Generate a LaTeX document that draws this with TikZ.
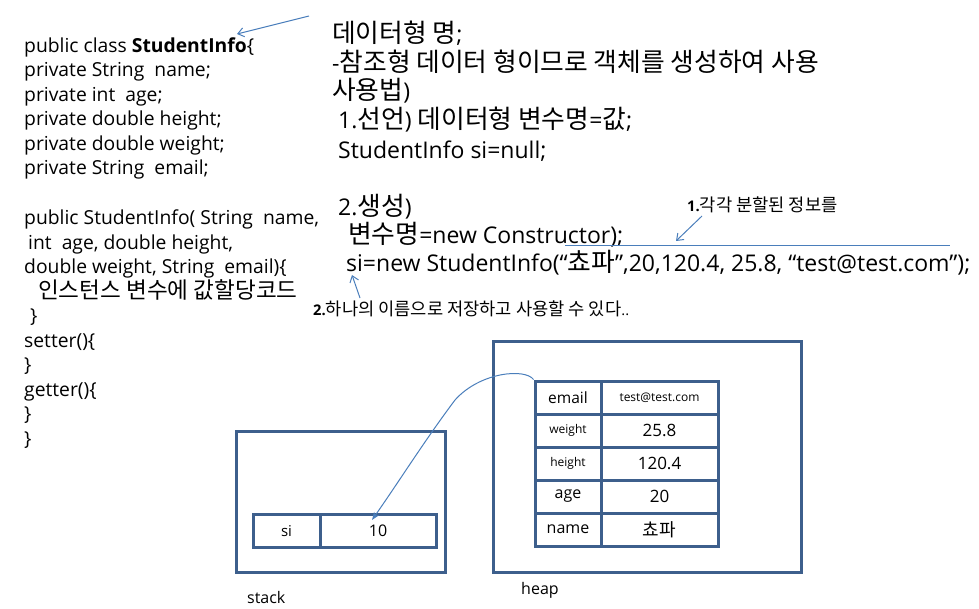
\documentclass[tikz,border=0pt]{standalone}
\usepackage{fontspec}
\setmainfont{Open Sans}
\newfontfamily\krcode{Noto Sans CJK KR}[Scale=1.17]
\newfontfamily\krnote{Noto Sans CJK KR}[Scale=1.12]
\newfontfamily\krsmall{Noto Sans CJK KR}[Scale=1.2]
\let\krcur\krsmall
\newcommand\kr[1]{{\krcur #1}}
\usetikzlibrary{arrows.meta}
\definecolor{boxblue}{HTML}{3D5F8C}
\definecolor{annblue}{HTML}{4A7EBB}
\begin{document}
\begin{tikzpicture}[x=1pt,y=-1pt,
  code/.style={anchor=base west,inner sep=0pt,font=\fontsize{19.3}{22}\selectfont\let\krcur\krcode},
  note/.style={anchor=base west,inner sep=0pt,font=\fontsize{23}{26}\selectfont\let\krcur\krnote},
  small/.style={anchor=base west,inner sep=0pt,font=\fontsize{14.7}{16}\selectfont\let\krcur\krsmall},
  frame/.style={draw=boxblue,line width=3pt,rectangle,inner sep=0pt},
  cell/.style={draw=boxblue,line width=3pt,rectangle,inner sep=0pt,minimum height=33pt},
  ann/.style={draw=annblue,line width=1pt},
  tip/.style={-{Straight Barb[length=6pt,width=9pt]}}]
\useasboundingbox (0,0) rectangle (979,608);
% left code
\node[code] (c1) at (24,52) {public class \textbf{StudentInfo}\{};
\node[code] (c2) at (24,76.5) {private String\ \ name;};
\node[code] (c3) at (24,101) {private int\ \ age;};
\node[code] (c4) at (24,125.5) {private double height;};
\node[code] (c5) at (24,150) {private double weight;};
\node[code] (c6) at (24,174.5) {private String\ \ email;};
\node[code] (c7) at (24,224.5) {public StudentInfo( String\ \ name,};
\node[code] (c8) at (28,249) {int\ \ age, double height,};
\node[code] (c9) at (24,273.5) {double weight, String\ \ email)\{};
\node[code] (c10) at (38,298) {\kr{인스턴스 변수에 값할당코드}};
\node[code] (c11) at (30,322.5) {\}};
\node[code] (c12) at (24,347) {setter()\{};
\node[code] (c13) at (24,371.5) {\}};
\node[code] (c14) at (24,396) {getter()\{};
\node[code] (c15) at (24,420.5) {\}};
\node[code] (c16) at (24,445) {\}};
% right notes
\node[note] (r1) at (332,42) {\kr{데이터형 명};};
\node[note] (r2) at (332,71) {-\kr{참조형 데이터 형이므로 객체를 생성하여 사용}};
\node[note] (r3) at (332,99) {\kr{사용법})};
\node[note] (r4) at (338,128) {1.\kr{선언}) \kr{데이터형 변수명}=\kr{값};};
\node[note] (r5) at (338,158) {StudentInfo si=null;};
\node[note] (r6) at (338,215) {2.\kr{생성})};
\node[note] (r7) at (348,243) {\kr{변수명}=new Constructor);};
\node[note] (r8) at (346,271.5) {si=new StudentInfo(“\kr{쵸파}”,20,120.4, 25.8, “test@test.com”);};
\node[small] (a1) at (687,211) {\textbf{1.}\kr{각각 분할된 정보를}};
\node[small] (a2) at (313,315) {\textbf{2.}\kr{하나의 이름으로 저장하고 사용할 수 있다}..};
% annotation connectors
\coordinate (p1s) at (309,16);
\coordinate (p1e) at (237,34);
\draw[ann,tip] (p1s) -- (p1e);
\coordinate (p2s) at (702,216);
\coordinate (p2e) at (676,241);
\draw[ann,tip] (p2s) -- (p2e);
\coordinate (h1) at (565,245);
\coordinate (h2) at (950,245);
\draw[ann] (h1) -- (h2);
\coordinate (p3s) at (360,298);
\coordinate (p3e) at (352,275);
\draw[ann,tip] (p3s) -- (p3e);
% stack
\node[frame,minimum width=209pt,minimum height=141pt] (stack) at (340.5,501.5) {};
\node[cell,minimum width=67pt,font=\fontsize{15}{17}\selectfont] (si) at (286.5,531) {si};
\node[cell,minimum width=116pt,font=\fontsize{16}{18}\selectfont] (siv) at (378,531) {10};
\node[anchor=base west,inner sep=0pt,font=\fontsize{16}{18}\selectfont] (stl) at (247,603) {stack};
% heap
\node[frame,minimum width=308pt,minimum height=231pt] (heap) at (647,456.5) {};
\node[anchor=base west,inner sep=0pt,font=\fontsize{16}{18}\selectfont] (hpl) at (521,594) {heap};
\node[cell,minimum width=66pt,font=\fontsize{15.5}{17}\selectfont] (k1) at (568,397.5) {email};
\node[cell,minimum width=117pt,font=\fontsize{12}{14}\selectfont] (v1) at (659.5,397.5) {test@test.com};
\node[cell,minimum width=66pt,font=\fontsize{12}{14}\selectfont] (k2) at (568,430.5) {weight};
\node[cell,minimum width=117pt,font=\fontsize{17}{19}\selectfont] (v2) at (659.5,430.5) {25.8};
\node[cell,minimum width=66pt,font=\fontsize{12}{14}\selectfont] (k3) at (568,463.5) {height};
\node[cell,minimum width=117pt,font=\fontsize{17}{19}\selectfont] (v3) at (659.5,463.5) {120.4};
\node[cell,minimum width=66pt,font=\fontsize{16}{18}\selectfont] (k4) at (568,496.5) {age};
\node[cell,minimum width=117pt,font=\fontsize{17}{19}\selectfont] (v4) at (659.5,496.5) {20};
\node[cell,minimum width=66pt,font=\fontsize{16}{18}\selectfont] (k5) at (568,529.5) {name};
\node[cell,minimum width=117pt,font=\fontsize{15}{19}\selectfont] (v5) at (659.5,529.5) {\kr{쵸파}};
% reference curve
\coordinate (ref) at (372,520);
\draw[ann,-{Stealth[length=8pt,width=6pt]}] (k1.north west) .. controls (525,368) and (480,372) .. (455,400) .. controls (425,440) and (400,480) .. (ref);
\end{tikzpicture}
\end{document}
